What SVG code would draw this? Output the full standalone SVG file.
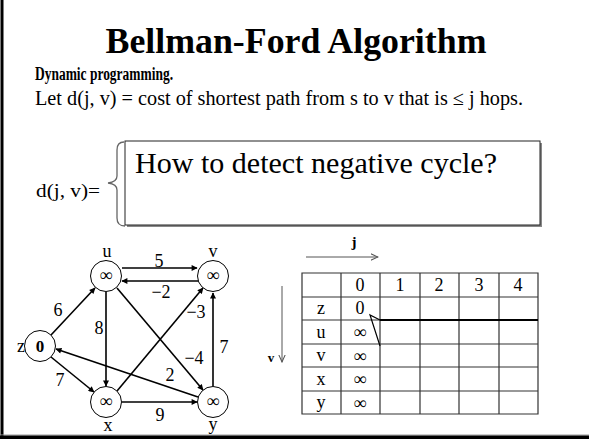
<svg xmlns="http://www.w3.org/2000/svg" width="589" height="439" viewBox="0 0 589 439">
<style>
.serif{font-family:"Liberation Serif","Times New Roman",serif;fill:#000}
.e{fill:none;stroke:#000;stroke-width:1.6}
.nd{fill:#fff;stroke:#000;stroke-width:1}
.lbl{font-family:"Liberation Serif","Times New Roman",serif;font-size:18px;fill:#000;text-anchor:middle}
.inf{font-family:"Liberation Serif","Times New Roman",serif;font-size:18px;fill:#000;text-anchor:middle}
.tl{fill:none;stroke:#333;stroke-width:1.2}
.tt{font-family:"Liberation Serif","Times New Roman",serif;font-size:18px;fill:#000;text-anchor:middle}
</style>
<defs>
<marker id="ah" viewBox="0 0 10 10" refX="9" refY="5" markerWidth="8" markerHeight="6" markerUnits="userSpaceOnUse" orient="auto"><path d="M0,0 L10,5 L0,10 z" fill="#000"/></marker>
<marker id="oa" viewBox="0 0 10 10" refX="9" refY="5" markerWidth="8" markerHeight="8" markerUnits="userSpaceOnUse" orient="auto"><path d="M0,1 L9,5 L0,9" fill="none" stroke="#555" stroke-width="1.3"/></marker>
</defs>
<rect width="589" height="439" fill="#fff"/>
<!-- frame -->
<rect x="0.5" y="0" width="3" height="439" fill="#000"/>
<rect x="0" y="434.5" width="589" height="1" fill="#999"/>
<rect x="0" y="435.5" width="589" height="3.5" fill="#000"/>
<!-- texts -->
<text class="serif" x="296" y="53" font-size="36" font-weight="bold" text-anchor="middle" textLength="381" lengthAdjust="spacingAndGlyphs">Bellman-Ford Algorithm</text>
<text class="serif" x="35" y="80" font-size="18" font-weight="bold" textLength="138" lengthAdjust="spacingAndGlyphs">Dynamic programming.</text>
<text class="serif" x="35" y="105" font-size="20" textLength="488" lengthAdjust="spacingAndGlyphs">Let d(j, v) = cost of shortest path from s to v that is ≤ j hops.</text>
<text class="serif" x="36" y="197" font-size="18" textLength="64" lengthAdjust="spacingAndGlyphs">d(j, v)=</text>
<path d="M124,142 Q117,142 117,150 L117,176 Q117,182 108,183 Q117,184 117,190 L117,218 Q117,226 125,226" fill="none" stroke="#666" stroke-width="1.3"/>
<g id="box">
<rect x="127" y="143" width="415" height="84" fill="#888"/>
<rect x="125" y="141" width="415" height="84" fill="#fff" stroke="#222" stroke-width="1"/>
<text class="serif" x="135" y="173" font-size="30" textLength="362" lengthAdjust="spacingAndGlyphs">How to detect negative cycle?</text>
</g>
<!-- connectors -->
<g id="connectors">
<line class="e" x1="122" y1="268" x2="197" y2="268" marker-end="url(#ah)"/>
<line class="e" x1="198" y1="281" x2="122" y2="281" marker-end="url(#ah)"/>
<line class="e" x1="51" y1="335" x2="95" y2="288" marker-end="url(#ah)"/>
<line class="e" x1="51" y1="357" x2="94" y2="392" marker-end="url(#ah)"/>
<line class="e" x1="106" y1="292" x2="106" y2="386" marker-end="url(#ah)"/>
<line class="e" x1="117" y1="288" x2="203" y2="390" marker-end="url(#ah)"/>
<line class="e" x1="117" y1="391" x2="203" y2="288" marker-end="url(#ah)"/>
<line class="e" x1="213" y1="386" x2="213" y2="293" marker-end="url(#ah)"/>
<line class="e" x1="122" y1="402" x2="197" y2="402" marker-end="url(#ah)"/>
<line class="e" x1="198" y1="397" x2="56" y2="349" marker-end="url(#ah)"/>
</g>
<!-- edge labels -->
<text class="lbl" x="159" y="267">5</text>
<text class="lbl" x="161" y="298">−2</text>
<text class="lbl" x="58" y="316">6</text>
<text class="lbl" x="60" y="386">7</text>
<text class="lbl" x="99" y="334">8</text>
<text class="lbl" x="194" y="364">−4</text>
<text class="lbl" x="196" y="318">−3</text>
<text class="lbl" x="224" y="353">7</text>
<text class="lbl" x="160" y="421">9</text>
<text class="lbl" x="170" y="381">2</text>
<!-- nodes -->
<g id="node-u"><circle class="nd" cx="106" cy="276" r="15.5"/><text class="inf" x="106" y="281">∞</text><text class="lbl" x="107" y="257">u</text></g>
<g id="node-v"><circle class="nd" cx="213" cy="276" r="15.5"/><text class="inf" x="213" y="281">∞</text><text class="lbl" x="213" y="257">v</text></g>
<g id="node-z"><circle class="nd" cx="40" cy="346" r="15.5"/><text class="serif" x="40" y="352" font-size="17" font-weight="bold" text-anchor="middle">0</text><text class="lbl" x="21" y="352">z</text></g>
<g id="node-x"><circle class="nd" cx="106" cy="402" r="15.5"/><text class="inf" x="106" y="407">∞</text><text class="lbl" x="108" y="431">x</text></g>
<g id="node-y"><circle class="nd" cx="213" cy="402" r="15.5"/><text class="inf" x="213" y="407">∞</text><text class="lbl" x="213" y="430">y</text></g>
<!-- table axes -->
<g id="axes">
<line x1="306" y1="257" x2="378" y2="257" stroke="#555" stroke-width="1" marker-end="url(#oa)"/>
<text class="serif" x="354" y="247" font-size="15" font-weight="bold" text-anchor="middle">j</text>
<line x1="282" y1="286" x2="282" y2="362" stroke="#555" stroke-width="1" marker-end="url(#oa)"/>
<text class="serif" x="271" y="362" font-size="13" font-weight="bold" text-anchor="middle">v</text>
</g>
<!-- table -->
<g id="table">
<rect x="302" y="273" width="236" height="141" fill="#fff"/>
<path class="tl" d="M302,273 H538 V414 H302 Z M341,273 V414 M380,273 V414 M420,273 V414 M459,273 V414 M499,273 V414 M302,297 H538 M302,320 H538 M302,344 H538 M302,367 H538 M302,391 H538"/>
<line x1="380" y1="320" x2="538" y2="320" stroke="#000" stroke-width="2.2"/>
<polyline points="380,320 370,315 380,346" fill="none" stroke="#000" stroke-width="1.2"/>
<text class="tt" x="360" y="291">0</text>
<text class="tt" x="400" y="291">1</text>
<text class="tt" x="439" y="291">2</text>
<text class="tt" x="479" y="291">3</text>
<text class="tt" x="518" y="291">4</text>
<text class="tt" x="321" y="314">z</text>
<text class="tt" x="360" y="314">0</text>
<text class="tt" x="321" y="338">u</text>
<text class="inf" x="360" y="338">∞</text>
<text class="tt" x="321" y="361">v</text>
<text class="inf" x="360" y="362">∞</text>
<text class="tt" x="321" y="385">x</text>
<text class="inf" x="360" y="385">∞</text>
<text class="tt" x="321" y="408">y</text>
<text class="inf" x="360" y="409">∞</text>
</g>
</svg>
